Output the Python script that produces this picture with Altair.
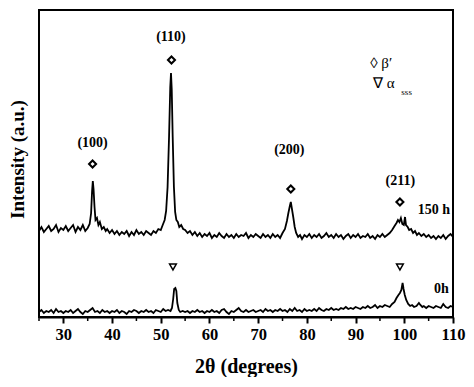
import altair as alt
import pandas as pd

# ---- 150 h pattern (intensity in arbitrary units) ----
x_150h = [25.0, 25.5, 26.0, 26.5, 27.0, 27.5, 28.0, 28.5, 29.0, 29.5, 30.0, 30.5, 31.0, 31.5, 32.0, 32.5,
          33.0, 33.5, 34.0, 34.5, 35.0, 35.4, 35.7, 35.9, 36.05, 36.2, 36.4, 36.6, 36.9, 37.2, 37.5, 37.9,
          38.3, 38.7, 39.0, 39.5, 40.0, 40.5, 41.0, 41.5, 42.0, 42.5, 43.0, 43.5, 44.0, 44.5, 45.0, 45.5,
          46.0, 46.5, 47.0, 47.5, 48.0, 48.5, 49.0, 49.5, 50.0, 50.4, 50.8, 51.1, 51.4, 51.7, 51.95, 52.1,
          52.25, 52.45, 52.7, 52.95, 53.2, 53.5, 53.8, 54.2, 54.6, 55.0, 55.5, 56.0, 56.5, 57.0, 57.5, 58.0,
          58.5, 59.0, 59.5, 60.0, 60.5, 61.0, 61.5, 62.0, 62.5, 63.0, 63.5, 64.0, 64.5, 65.0, 65.5, 66.0,
          66.5, 67.0, 67.5, 68.0, 68.5, 69.0, 69.5, 70.0, 70.5, 71.0, 71.5, 72.0, 72.5, 73.0, 73.5, 74.0,
          74.5, 75.0, 75.5, 75.9, 76.2, 76.5, 76.7, 76.9, 77.2, 77.5, 77.8, 78.2, 78.6, 79.0, 79.5, 80.0,
          80.5, 81.0, 81.5, 82.0, 82.5, 83.0, 83.5, 84.0, 84.5, 85.0, 85.5, 86.0, 86.5, 87.0, 87.5, 88.0,
          88.5, 89.0, 89.5, 90.0, 90.5, 91.0, 91.5, 92.0, 92.5, 93.0, 93.5, 94.0, 94.5, 95.0, 95.5, 96.0,
          96.5, 97.0, 97.5, 98.0, 98.4, 98.7, 99.0, 99.3, 99.6, 99.9, 100.15, 100.35, 100.7, 101.0, 101.4,
          101.8, 102.2, 102.6, 103.0, 103.5, 104.0, 104.5, 105.0, 105.5, 106.0, 106.5, 107.0, 107.5, 108.0,
          108.5, 109.0, 109.5, 110.0]
y_150h = [86, 90, 85, 88, 91, 86, 88, 92, 85, 89, 87, 91, 86, 89, 92, 85,
          90, 87, 92, 86, 89, 93, 104, 126, 136, 128, 110, 97, 99, 92, 95, 88,
          90, 86, 88, 84, 87, 83, 86, 82, 85, 83, 86, 81, 85, 82, 87, 83,
          85, 82, 86, 84, 82, 86, 84, 88, 87, 92, 97, 106, 130, 180, 230, 244,
          228, 180, 130, 105, 97, 95, 90, 92, 88, 87, 84, 86, 82, 85, 81, 84,
          80, 83, 81, 84, 79, 82, 80, 84, 81, 79, 83, 80, 82, 79, 83, 80,
          82, 81, 84, 79, 82, 80, 83, 81, 79, 83, 80, 82, 79, 83, 80, 82,
          79, 84, 88, 96, 104, 111, 115, 109, 100, 90, 84, 80, 82, 78, 82, 80,
          83, 79, 82, 80, 83, 79, 81, 84, 80, 82, 79, 83, 80, 82, 78, 81,
          83, 79, 82, 80, 83, 79, 81, 80, 83, 79, 81, 78, 82, 80, 83, 80,
          82, 84, 87, 91, 94, 97, 95, 99, 93, 92, 100, 92, 90, 87, 88,
          84, 86, 82, 84, 81, 83, 80, 82, 79, 81, 78, 81, 79, 82,
          78, 81, 83, 80]

# ---- 0 h pattern ----
x_0h = [25.0, 25.5, 26.0, 26.5, 27.0, 27.5, 28.0, 28.5, 29.0, 29.5, 30.0, 30.5, 31.0, 31.5, 32.0, 32.5,
        33.0, 33.5, 34.0, 34.5, 35.0, 35.5, 36.0, 36.5, 37.0, 37.5, 38.0, 38.5, 39.0, 39.5, 40.0, 40.5,
        41.0, 41.5, 42.0, 42.5, 43.0, 43.5, 44.0, 44.5, 45.0, 45.5, 46.0, 46.5, 47.0, 47.5, 48.0, 48.5,
        49.0, 49.5, 50.0, 50.5, 51.0, 51.5, 52.0, 52.3, 52.55, 52.75, 53.0, 53.2, 53.4, 53.7, 54.0, 54.5,
        55.0, 55.5, 56.0, 56.5, 57.0, 57.5, 58.0, 58.5, 59.0, 59.5, 60.0, 60.5, 61.0, 61.5, 62.0, 62.5,
        63.0, 63.5, 64.0, 64.5, 65.0, 65.5, 66.0, 66.5, 67.0, 67.5, 68.0, 68.5, 69.0, 69.5, 70.0, 70.5,
        71.0, 71.5, 72.0, 72.5, 73.0, 73.5, 74.0, 74.5, 75.0, 75.5, 76.0, 76.5, 77.0, 77.5, 78.0, 78.5,
        79.0, 79.5, 80.0, 80.5, 81.0, 81.5, 82.0, 82.5, 83.0, 83.5, 84.0, 84.5, 85.0, 85.5, 86.0, 86.5,
        87.0, 87.5, 88.0, 88.5, 89.0, 89.5, 90.0, 90.5, 91.0, 91.5, 92.0, 92.5, 93.0, 93.5, 94.0, 94.5,
        95.0, 95.5, 96.0, 96.5, 97.0, 97.5, 98.0, 98.4, 98.8, 99.1, 99.4, 99.65, 99.85, 100.1, 100.4,
        100.8, 101.2, 101.6, 102.0, 102.5, 103.0, 103.3, 103.7, 104.0, 104.5, 105.0, 105.5, 106.0, 106.5,
        107.0, 107.5, 108.0, 108.5, 109.0, 109.5, 110.0]
y_0h = [5, 7, 4, 6, 5, 7, 4, 8, 5, 6, 4, 6, 5, 7, 4, 6,
        8, 5, 3, 6, 5, 7, 9, 5, 6, 4, 7, 5, 6, 4, 6, 5,
        7, 4, 6, 5, 3, 6, 5, 7, 6, 4, 6, 5, 7, 5, 6, 4,
        7, 6, 5, 8, 6, 7, 6, 9, 18, 28, 29, 26, 14, 7, 5, 6,
        5, 6, 4, 6, 5, 7, 5, 6, 4, 6, 5, 7, 5, 6, 4, 7,
        8, 5, 3, 6, 5, 7, 9, 6, 5, 7, 5, 6, 7, 5, 6, 7,
        5, 8, 6, 7, 5, 7, 6, 8, 6, 7, 5, 8, 6, 9, 6, 7,
        5, 8, 6, 7, 6, 8, 6, 9, 7, 6, 8, 7, 9, 7, 8, 7,
        9, 8, 10, 8, 9, 8, 10, 9, 8, 10, 9, 11, 9, 10, 12, 9,
        11, 10, 12, 11, 10, 13, 15, 19, 22, 24, 27, 34, 28, 22, 17,
        13, 11, 12, 10, 11, 14, 12, 10, 11, 9, 11, 10, 9, 11,
        10, 9, 13, 10, 9, 11, 10]

# ---- annotations ----
peak_labels = ["(100)", "(110)", "(200)", "(211)"]
peak_label_x = [36.0, 52.1, 76.4, 99.2]
peak_label_y = [174, 280, 167, 136]
beta_x = [36.0, 52.2, 76.7, 99.1]
beta_y = [153, 257, 128, 115]
alpha_x = [52.5, 99.1]
alpha_y = [50, 50]
series_labels = ["150 h", "0h"]
series_label_x = [106.1, 107.6]
series_label_y = [107, 28]
legend_text = ["\u25CA \u03B2\u2032", "\u2207 \u03B1"]
legend_x = [93.0, 93.6]
legend_y = [254, 234]
legend_sub = ["sss"]
legend_sub_x = [99.4]
legend_sub_y = [225]
major_ticks = [30, 40, 50, 60, 70, 80, 90, 100, 110]
minor_ticks = [25, 35, 45, 55, 65, 75, 85, 95, 105]

FONT = "Liberation Serif"
xs = alt.Scale(domain=[25, 110], nice=False, zero=False)
ys = alt.Scale(domain=[0, 307], nice=False, zero=False)

major_axis = alt.Axis(values=major_ticks, orient="bottom", tickSize=6, tickWidth=2, tickColor="black",
                      labelFont=FONT, labelFontSize=16.5, labelFontWeight="bold", labelColor="black",
                      labelPadding=3, labelFlush=False, grid=False, domainColor="black", domainWidth=2,
                      titleFont=FONT, titleFontSize=20, titleFontWeight="bold", titleColor="black",
                      titlePadding=14)
y_axis = alt.Axis(ticks=False, labels=False, domain=False, grid=False,
                  titleFont=FONT, titleFontSize=19, titleFontWeight="bold", titleColor="black",
                  titlePadding=12, titleY=149)

# identical encodings in every layer so the shared axes merge cleanly
X = alt.X("x:Q", scale=xs, axis=major_axis, title="2θ (degrees)")
Y = alt.Y("y:Q", scale=ys, axis=y_axis, title="Intensity (a.u.)")

df150 = pd.DataFrame({"x": x_150h, "y": y_150h})
df0 = pd.DataFrame({"x": x_0h, "y": y_0h})

line150 = alt.Chart(df150).mark_line(color="black", strokeWidth=1.8).encode(x=X, y=Y)
line0 = alt.Chart(df0).mark_line(color="black", strokeWidth=1.8).encode(x=X, y=Y)

minor = alt.Chart(pd.DataFrame({"x": minor_ticks})).mark_rule(color="black", strokeWidth=1.5).encode(
    x=X, y=alt.value(307), y2=alt.value(311))

peaks = alt.Chart(pd.DataFrame({"x": peak_label_x, "y": peak_label_y, "t": peak_labels})).mark_text(
    font=FONT, fontSize=14, fontWeight="bold", color="black").encode(x=X, y=Y, text="t:N")

beta = alt.Chart(pd.DataFrame({"x": beta_x, "y": beta_y})).mark_point(
    shape="diamond", filled=False, size=50, strokeWidth=2, color="black", opacity=1).encode(x=X, y=Y)

alpha = alt.Chart(pd.DataFrame({"x": alpha_x, "y": alpha_y})).mark_point(
    shape="triangle-down", filled=False, size=45, strokeWidth=1.5, color="black", opacity=1).encode(x=X, y=Y)

series = alt.Chart(pd.DataFrame({"x": series_label_x, "y": series_label_y, "t": series_labels})).mark_text(
    font=FONT, fontSize=14, fontWeight="bold", color="black").encode(x=X, y=Y, text="t:N")

legend = alt.Chart(pd.DataFrame({"x": legend_x, "y": legend_y, "t": legend_text})).mark_text(
    font=FONT, fontSize=15, color="black", align="left").encode(x=X, y=Y, text="t:N")

legend2 = alt.Chart(pd.DataFrame({"x": legend_sub_x, "y": legend_sub_y, "t": legend_sub})).mark_text(
    font=FONT, fontSize=9, color="black", align="left").encode(x=X, y=Y, text="t:N")

chart = alt.layer(line150, line0, minor, peaks, beta, alpha, series, legend, legend2).properties(
    width=414, height=307,
    autosize=alt.AutoSizeParams(type="none"),
    padding={"left": 31, "top": 2, "right": 13, "bottom": 60},
    background="white",
).configure(font=FONT).configure_view(stroke="black", strokeWidth=2)

chart.save("out.html", embed_options={"renderer": "svg", "actions": False})
